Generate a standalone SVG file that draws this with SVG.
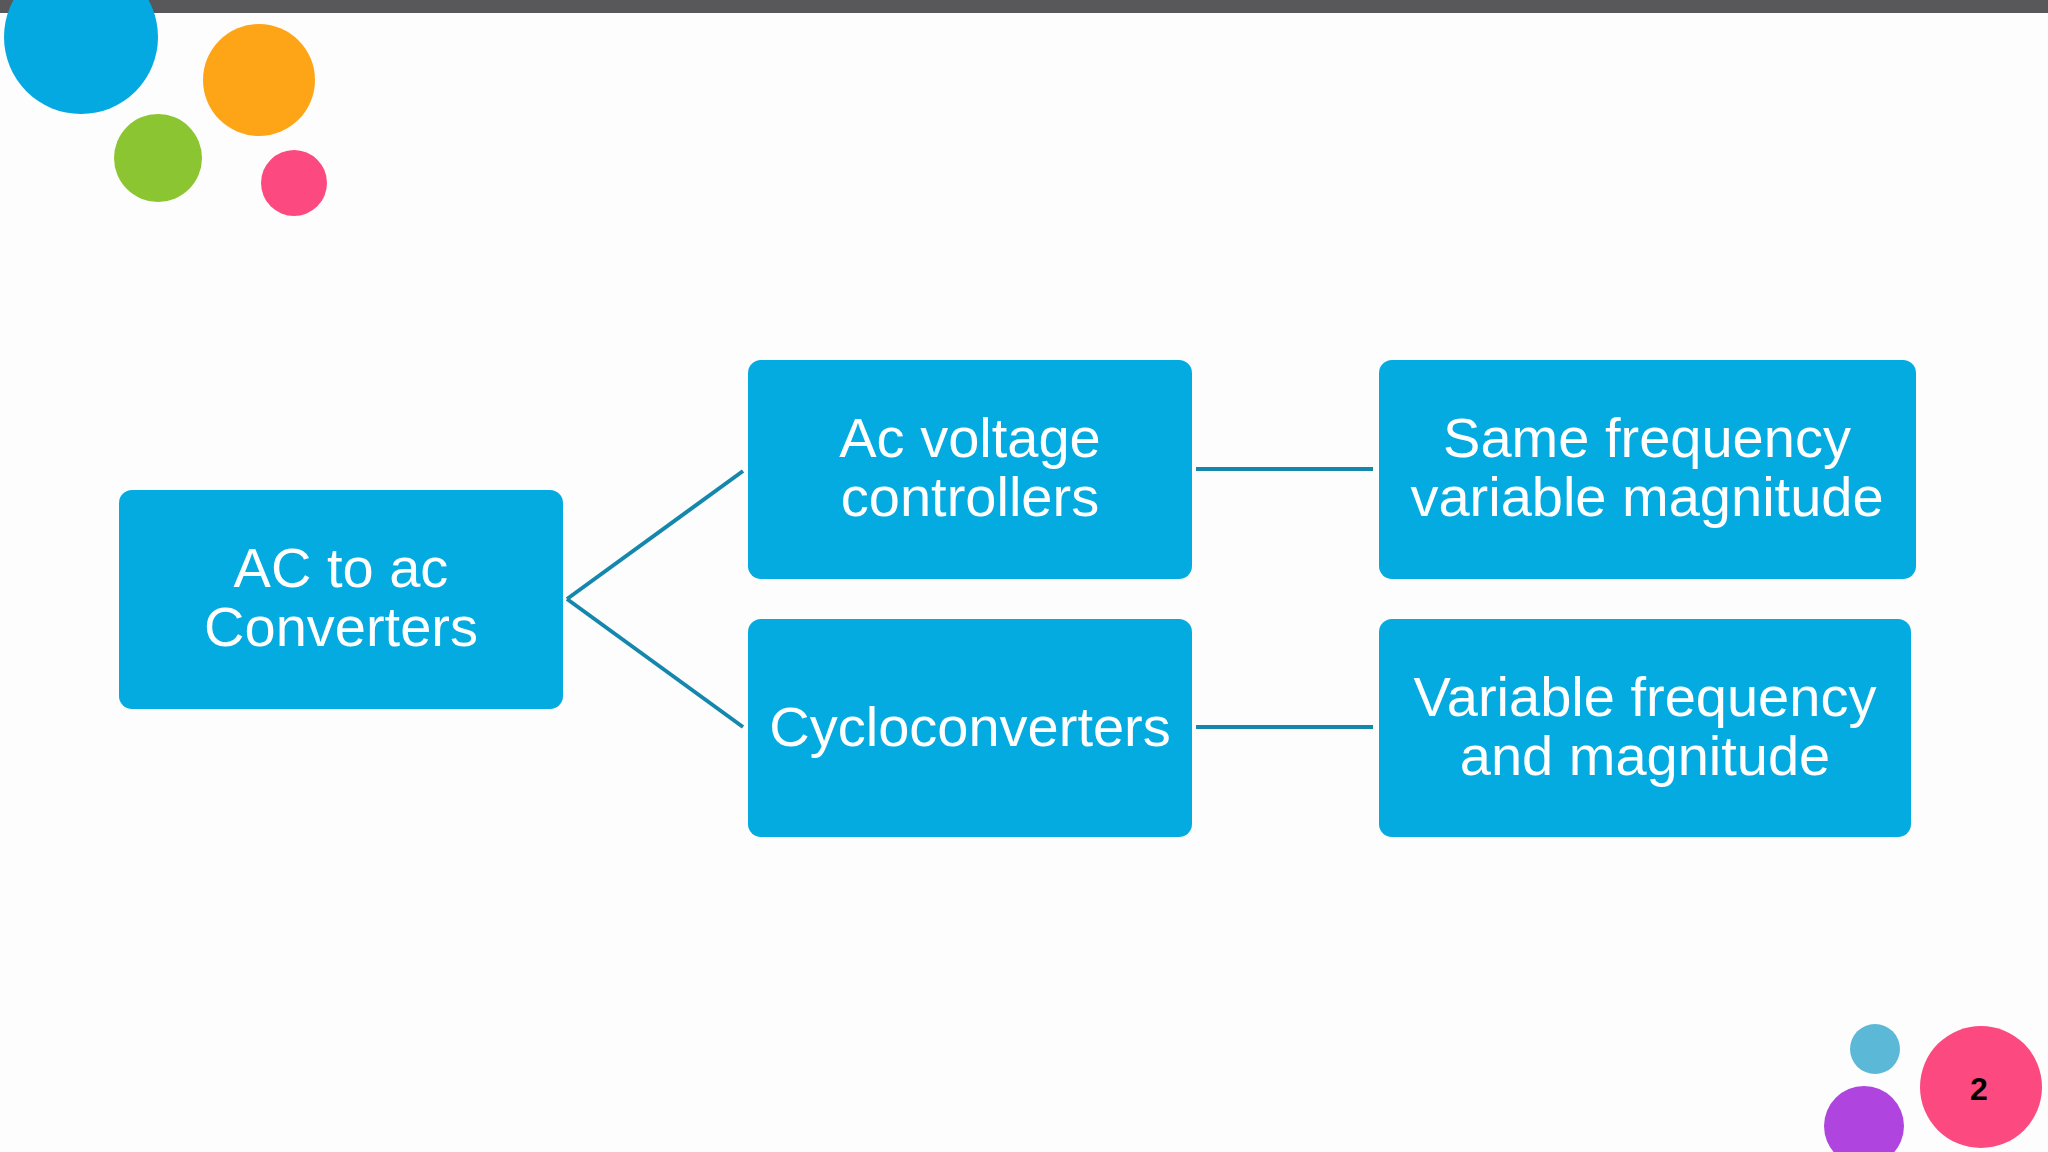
<svg xmlns="http://www.w3.org/2000/svg" width="2048" height="1152" viewBox="0 0 2048 1152">
<style>
.box{fill:#03abe1}
.t{font-family:"Liberation Sans",Arial,sans-serif;font-size:56px;fill:#fff;text-anchor:middle}
.c{stroke:#1587ad;stroke-width:4;fill:none}
</style>
<rect width="2048" height="1152" fill="#fdfdfd"/>
<rect width="2048" height="13" fill="#58585a"/>
<circle cx="81" cy="37" r="77" fill="#03a9e0"/>
<circle cx="259" cy="80" r="56" fill="#fda517"/>
<circle cx="158" cy="158" r="44" fill="#8cc532"/>
<circle cx="294" cy="183" r="33" fill="#fc4a80"/>
<circle cx="1875" cy="1049" r="25" fill="#5bb8d6"/>
<circle cx="1864" cy="1126" r="40" fill="#b044de"/>
<circle cx="1981" cy="1087" r="61" fill="#fc4a80"/>
<text x="1979" y="1100" font-family="Liberation Sans,Arial,sans-serif" font-size="32" font-weight="bold" text-anchor="middle" fill="#000">2</text>
<g id="connectors">
<path class="c" d="M567 599L743 471M567 599L743 727M1196 469H1373M1196 727H1373"/>
</g>
<g id="n1"><rect class="box" x="119" y="490" width="444" height="219" rx="13"/><text class="t" x="341" y="587">AC to ac</text><text class="t" x="341" y="646">Converters</text></g>
<g id="n2"><rect class="box" x="748" y="360" width="444" height="219" rx="13"/><text class="t" x="970" y="457">Ac voltage</text><text class="t" x="970" y="516">controllers</text></g>
<g id="n3"><rect class="box" x="748" y="619" width="444" height="218" rx="13"/><text class="t" x="970" y="746">Cycloconverters</text></g>
<g id="n4"><rect class="box" x="1379" y="360" width="537" height="219" rx="13"/><text class="t" x="1647" y="457">Same frequency</text><text class="t" x="1647" y="516">variable magnitude</text></g>
<g id="n5"><rect class="box" x="1379" y="619" width="532" height="218" rx="13"/><text class="t" x="1645" y="716">Variable frequency</text><text class="t" x="1645" y="775">and magnitude</text></g>
</svg>
